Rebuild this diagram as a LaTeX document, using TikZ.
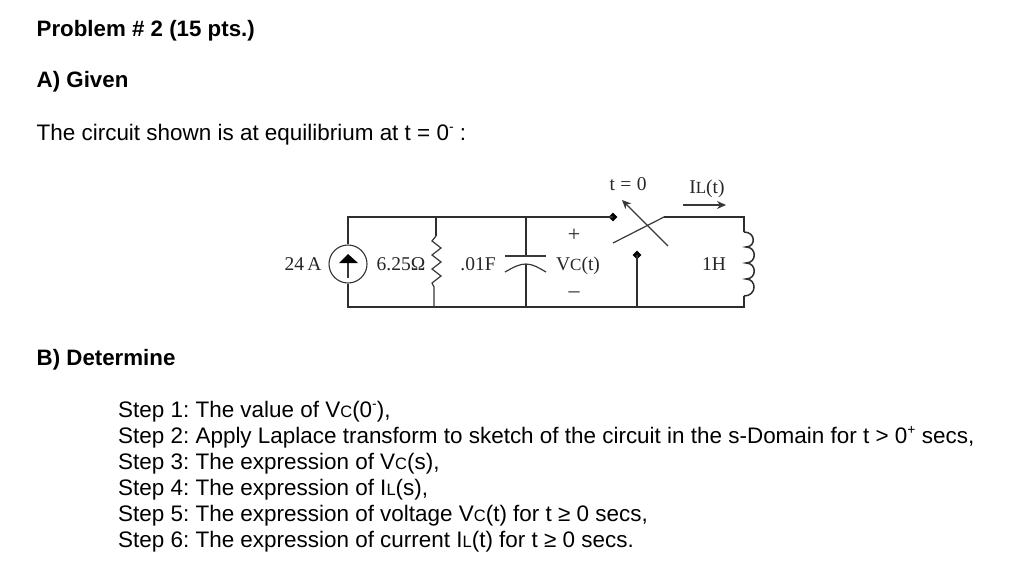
\documentclass[tikz,border=0pt]{standalone}
\usepackage{fontspec}
\setmainfont{Liberation Sans}
\newfontfamily\serifcirc{Liberation Serif}
\usetikzlibrary{arrows.meta,shapes.geometric}
\frenchspacing
\newcommand{\supr}[1]{\raisebox{0.42em}{\fontsize{14}{14}\selectfont #1}}
\newcommand{\subs}[1]{{\fontsize{16.5}{16.5}\selectfont #1}}
\newcommand{\csub}[1]{{\fontsize{17}{17}\selectfont #1}}
\tikzset{
  wire/.style={line width=1.5pt,color=black!82},
  thin wire/.style={line width=1.2pt,color=black!78},
  head/.style={anchor=base west,inner sep=0pt,font=\fontsize{22.3}{22.3}\selectfont\bfseries},
  body/.style={anchor=base west,inner sep=0pt,font=\fontsize{22.45}{22.45}\selectfont},
  lab/.style={inner sep=0pt,anchor=base,color=black!85,font=\fontsize{19.5}{19.5}\selectfont\serifcirc},
  dot/.style={diamond,fill=black,inner sep=0pt,minimum size=9pt},
  tip/.style={-{Stealth[length=9pt,width=8pt]}},
}
\begin{document}
\begin{tikzpicture}[x=1pt,y=-1pt]
\useasboundingbox (0,0) rectangle (1024,581);
\fill[white] (0,0) rectangle (1024,581);
\node[head] (title) at (36.5,36.5) {Problem \# 2 (15 pts.)};
\node[head] (given) at (36.5,87.5) {A) Given};
\node[body] (intro) at (36.5,140.5) {The circuit shown is at equilibrium at t = 0\supr{-} :};
\node[head] (det) at (36.5,365.5) {B) Determine};
\node[body] (s1) at (118,417.5) {Step 1: The value of V\subs{C}(0\supr{-}),};
\node[body] (s2) at (118,443.5) {Step 2: Apply Laplace transform to sketch of the circuit in the s-Domain for t > 0\supr{+} secs,};
\node[body] (s3) at (118,469.5) {Step 3: The expression of V\subs{C}(s),};
\node[body] (s4) at (118,495.5) {Step 4: The expression of I\subs{L}(s),};
\node[body] (s5) at (118,521.5) {Step 5: The expression of voltage V\subs{C}(t) for t ≥ 0 secs,};
\node[body] (s6) at (118,547.5) {Step 6: The expression of current I\subs{L}(t) for t ≥ 0 secs.};

% circuit
\coordinate (tl) at (348,217); \coordinate (bl) at (348,307);
\coordinate (rt) at (436,217); \coordinate (rb) at (434,307);
\coordinate (ct) at (526,217); \coordinate (cb) at (526,307);
\coordinate (lt) at (744,217); \coordinate (lb) at (744,307);
\node[circle,draw=black!80,line width=1.1pt,minimum size=38pt,inner sep=0pt] (src) at (348,264) {};
\node[dot] (c1) at (613,217) {};
\node[dot] (c2) at (637,255) {};
\draw[wire] (src.north) -- (tl) -- (c1.center);
\draw[wire] (src.south) -- (bl) -- (lb) -- (744,296);
\draw[wire] (rt) -- (436,236);
\draw[thin wire] (436,236) -- (432,241) -- (441,248) -- (432,255) -- (441,262) -- (432,269) -- (441,276) -- (432,283) -- (434,287) -- (rb);
\draw[wire] (ct) -- (526,256);
\draw[wire] (526,264) -- (cb);
\draw[thin wire] (505,256) -- (546,256);
\draw[thin wire] (505,272) .. controls (514,267) and (519,264) .. (526,264) .. controls (533,264) and (539,268) .. (546,272);
\draw[thin wire] (348,278) -- (348,258);
\fill[black] (339,263) -- (348,254) -- (358,263) -- cycle;
% switch
\draw[wire] (c2.center) -- (637,307);
\draw[tip,thin wire] (668,246) -- (622,200);
\draw[thin wire] (613,243) -- (664,217);
\draw[wire] (664,217) -- (lt) -- (744,232);
% inductor
\draw[wire] (744,232) .. controls (756,232) and (756,247) .. (746,247) .. controls (757,247) and (757,263) .. (746,263) .. controls (757,263) and (757,279) .. (746,279) .. controls (757,279) and (757,296) .. (744,296);
\node[lab] (i) at (303,270) {24\,A};
\node[lab] (r) at (401,270) {6.25Ω};
\node[lab] (cp) at (478,270) {.01F};
\node[lab] (v) at (578,270) {V\csub{C}(t)};
\node[lab,font=\fontsize{22}{22}\selectfont\serifcirc] (pl) at (574,241) {+};
\node[lab,font=\fontsize{22}{22}\selectfont\serifcirc] (mi) at (574,297) {–};
\node[lab] (t0) at (628,190) {t\;=\;0};
\node[lab] (il) at (707,193) {I\csub{L}(t)};
\node[lab] (h) at (714,270) {1H};
\coordinate (a1) at (683,205); \coordinate (a2) at (726,205);
\draw[tip,thin wire] (a1) -- (a2);
\end{tikzpicture}
\end{document}
